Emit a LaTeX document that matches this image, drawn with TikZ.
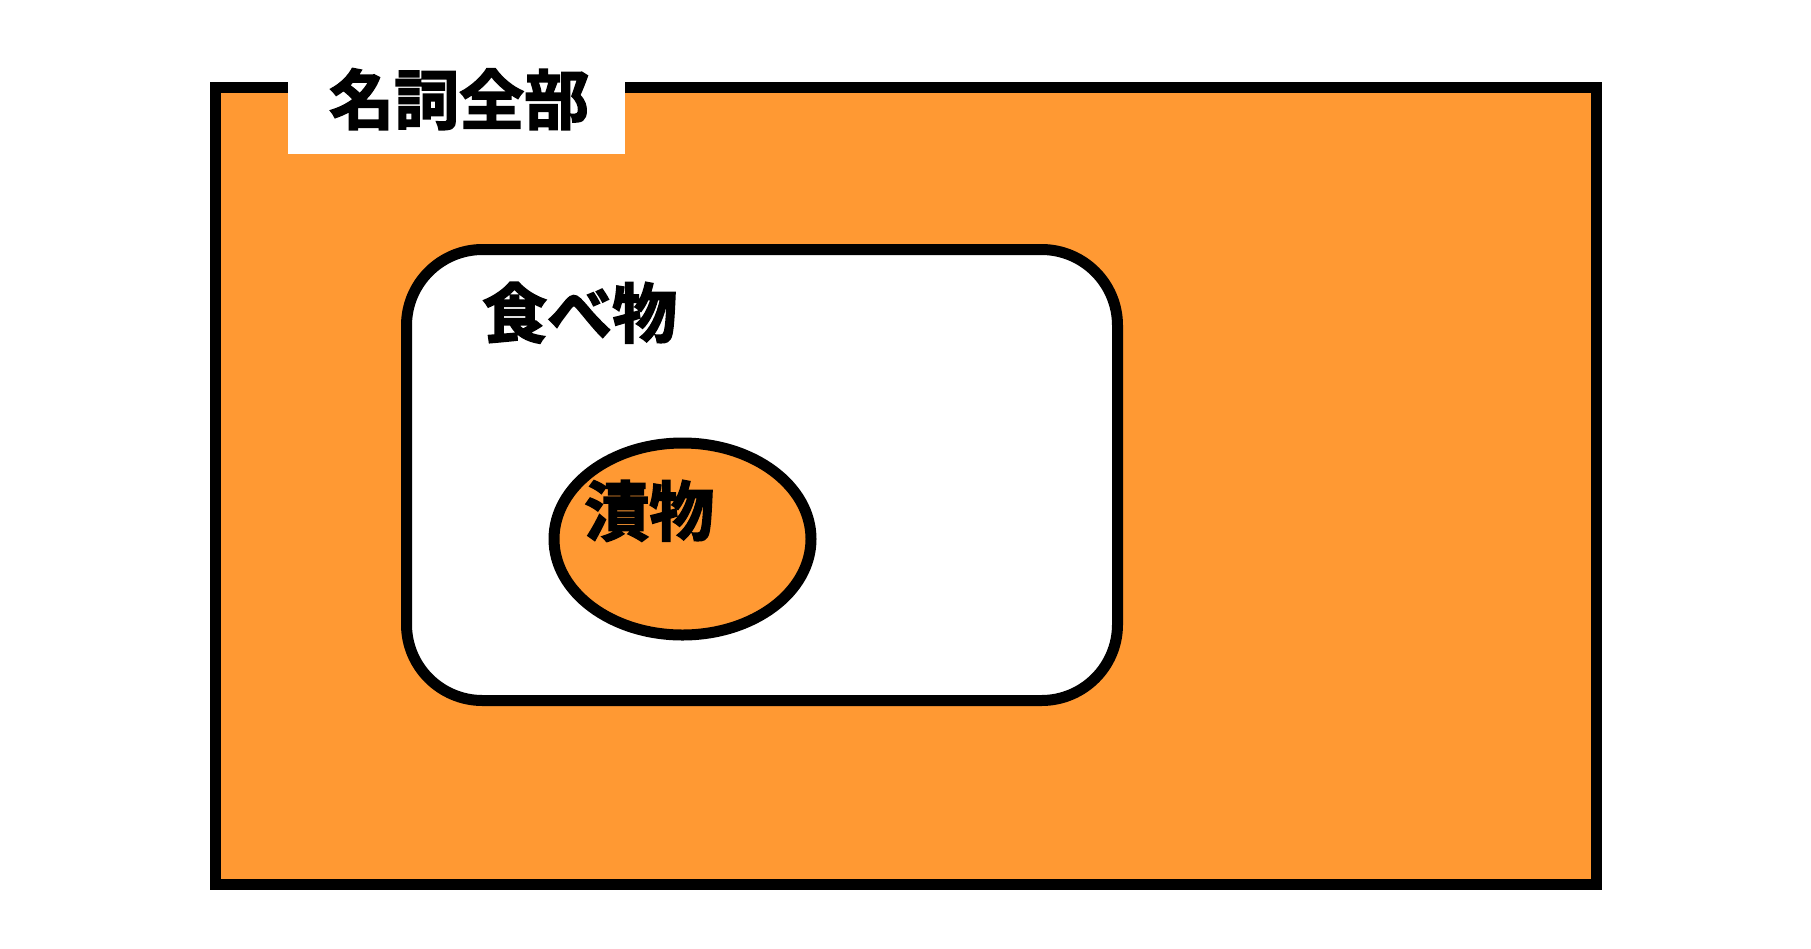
\documentclass[tikz,border=0pt]{standalone}
\usepackage{fontspec}
\newcommand\nounfont{\fontspec{Noto Sans CJK JP Bold}[FakeBold=2.5]\fontsize{65}{70}\selectfont}
\definecolor{orangefill}{RGB}{255,153,51}
\begin{document}
\begin{tikzpicture}[x=1pt,y=-1pt,
  edge/.style={draw=black,line width=11pt},
  lbl/.style={inner sep=0pt,anchor=base west}]
\useasboundingbox[fill=white] (0,0) rectangle (1811,948);
% outer rectangle
\path[edge,fill=orangefill] (215.5,87.5) rectangle (1596.5,884.5);
% label box
\fill[white] (288,80) rectangle (625,154);
\node[lbl] (all) at (329,124) {\nounfont 名詞全部};
% food box
\path[edge,fill=white,rounded corners=76pt] (406.5,249.5) rectangle (1117.5,700.5);
\node[lbl] (food) at (482,337.5) {\nounfont 食べ物};
% pickles ellipse
\path[edge,fill=orangefill] (682.5,539) ellipse [x radius=128.5pt,y radius=96pt];
\node[lbl] (pick) at (584,535.5) {\nounfont 漬物};
\end{tikzpicture}
\end{document}
